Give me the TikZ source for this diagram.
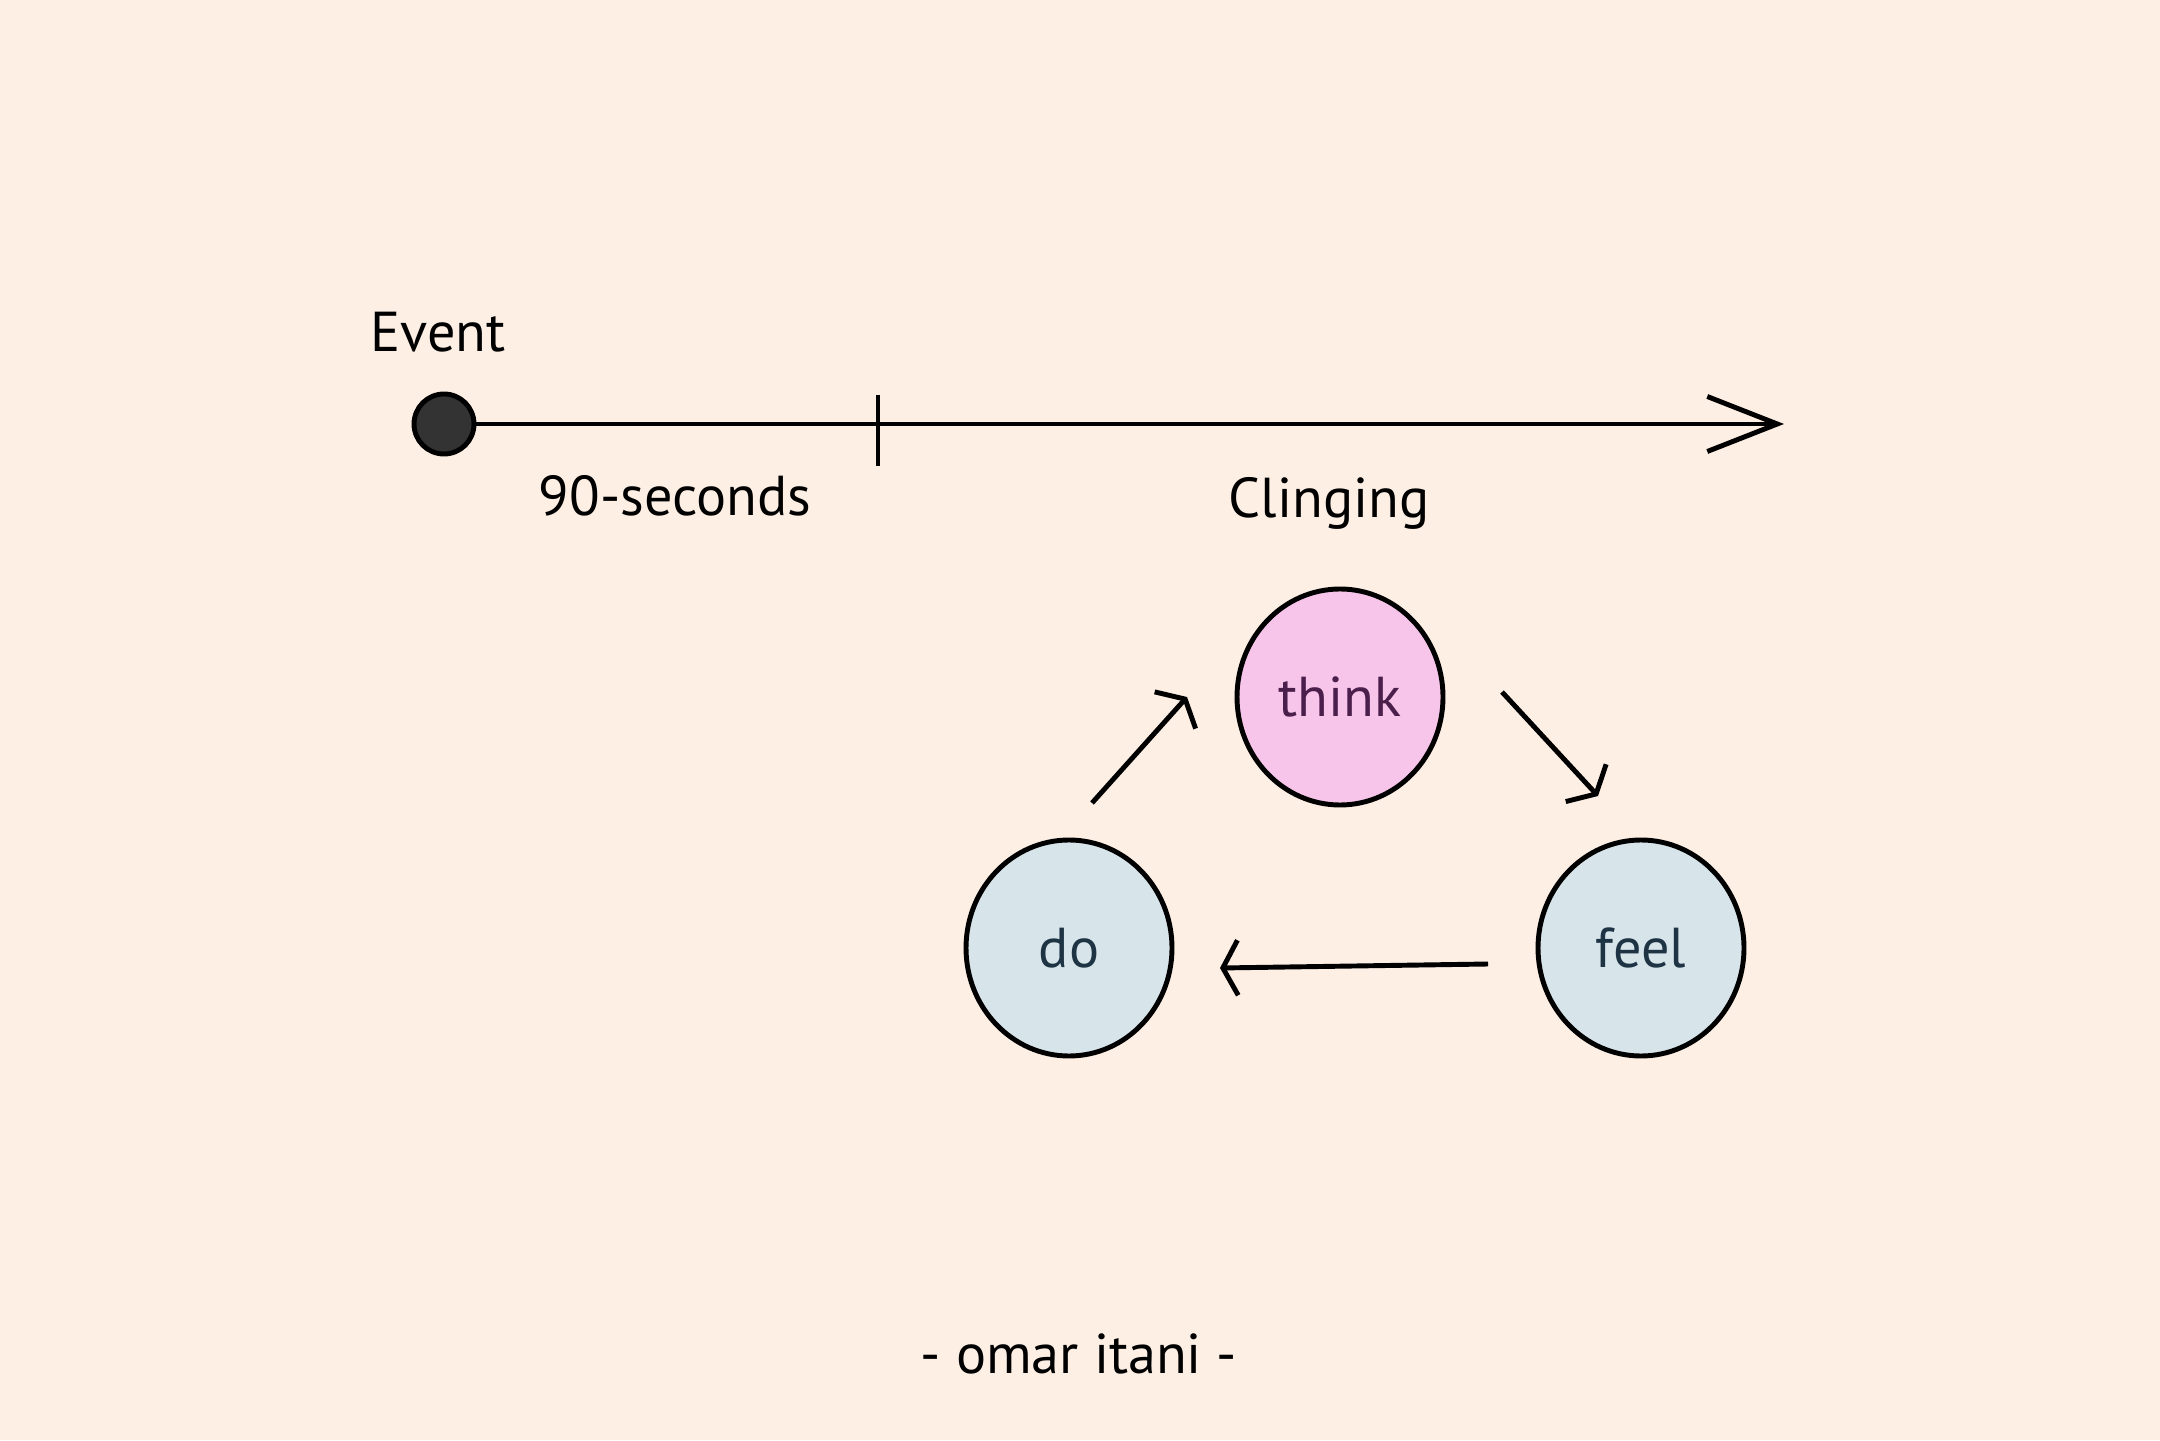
\documentclass[tikz,border=0pt]{standalone}
\usepackage{fontspec}
\setmainfont{PT Sans}
\usetikzlibrary{positioning, shapes.geometric, arrows.meta}

\definecolor{paper}{HTML}{FDEFE4}
\definecolor{pinkfill}{HTML}{F8C5EA}
\definecolor{bluefill}{HTML}{D7E4EA}
\definecolor{pinkink}{HTML}{4B1F4B}
\definecolor{blueink}{HTML}{1E3444}

\tikzset{
	hand/.style={font=\fontsize{16}{19}\selectfont},
	bubble/.style={ellipse, draw, line width=1.4pt, minimum width=2.06cm, minimum height=2.16cm, inner sep=0pt, outer sep=0pt, hand},
	arr/.style={line width=1.4pt, -{Straight Barb[length=1.5mm, width=5.5mm]}},
}

\begin{document}
\begin{tikzpicture}
	\fill[paper] (0,0) rectangle (21.6,14.4);
	\useasboundingbox (0,0) rectangle (21.6,14.4);
	
	\node[circle, draw, fill=black!80, line width=1.4pt, minimum size=0.6cm, inner sep=0pt] (event) at (4.44,10.16) {};
	\coordinate (tick) at (8.78,10.16);
	\coordinate (tip) at (17.84,10.16);
	
	\node[hand] (eventlabel) at (4.38,11.08) {Event};
	\node[hand] (seconds) at (6.75,9.44) {90-seconds};
	\node[hand] (clinging) at (13.29,9.37) {Clinging};
	
	\draw[line width=1.4pt, -{Straight Barb[length=7mm, width=5.5mm]}] (event) -- (tip);
	\draw[line width=1.4pt] ([yshift=0.29cm]tick) -- ([yshift=-0.42cm]tick);
	
	\node[bubble, fill=pinkfill, text=pinkink] (think) at (13.40,7.43) {think};
	\node[bubble, fill=bluefill, text=blueink, on grid, below left=2.51cm and 2.71cm of think] (do) {do};
	\node[bubble, fill=bluefill, text=blueink, on grid, right=5.72cm of do] (feel) {feel};
	
	\draw[arr] ([shift={(0.23,0.37)}]do.north) -- ([shift={(-0.5,0)}]think.west);
	\draw[arr] ([shift={(0.59,0.05)}]think.east) -- ([shift={(-0.43,0.44)}]feel.north);
	\draw[arr] ([shift={(-0.5,-0.16)}]feel.west) -- ([shift={(0.48,-0.2)}]do.east);
	
	\node[hand] (credit) at (10.79,0.86) {- omar itani -};
\end{tikzpicture}
\end{document}
